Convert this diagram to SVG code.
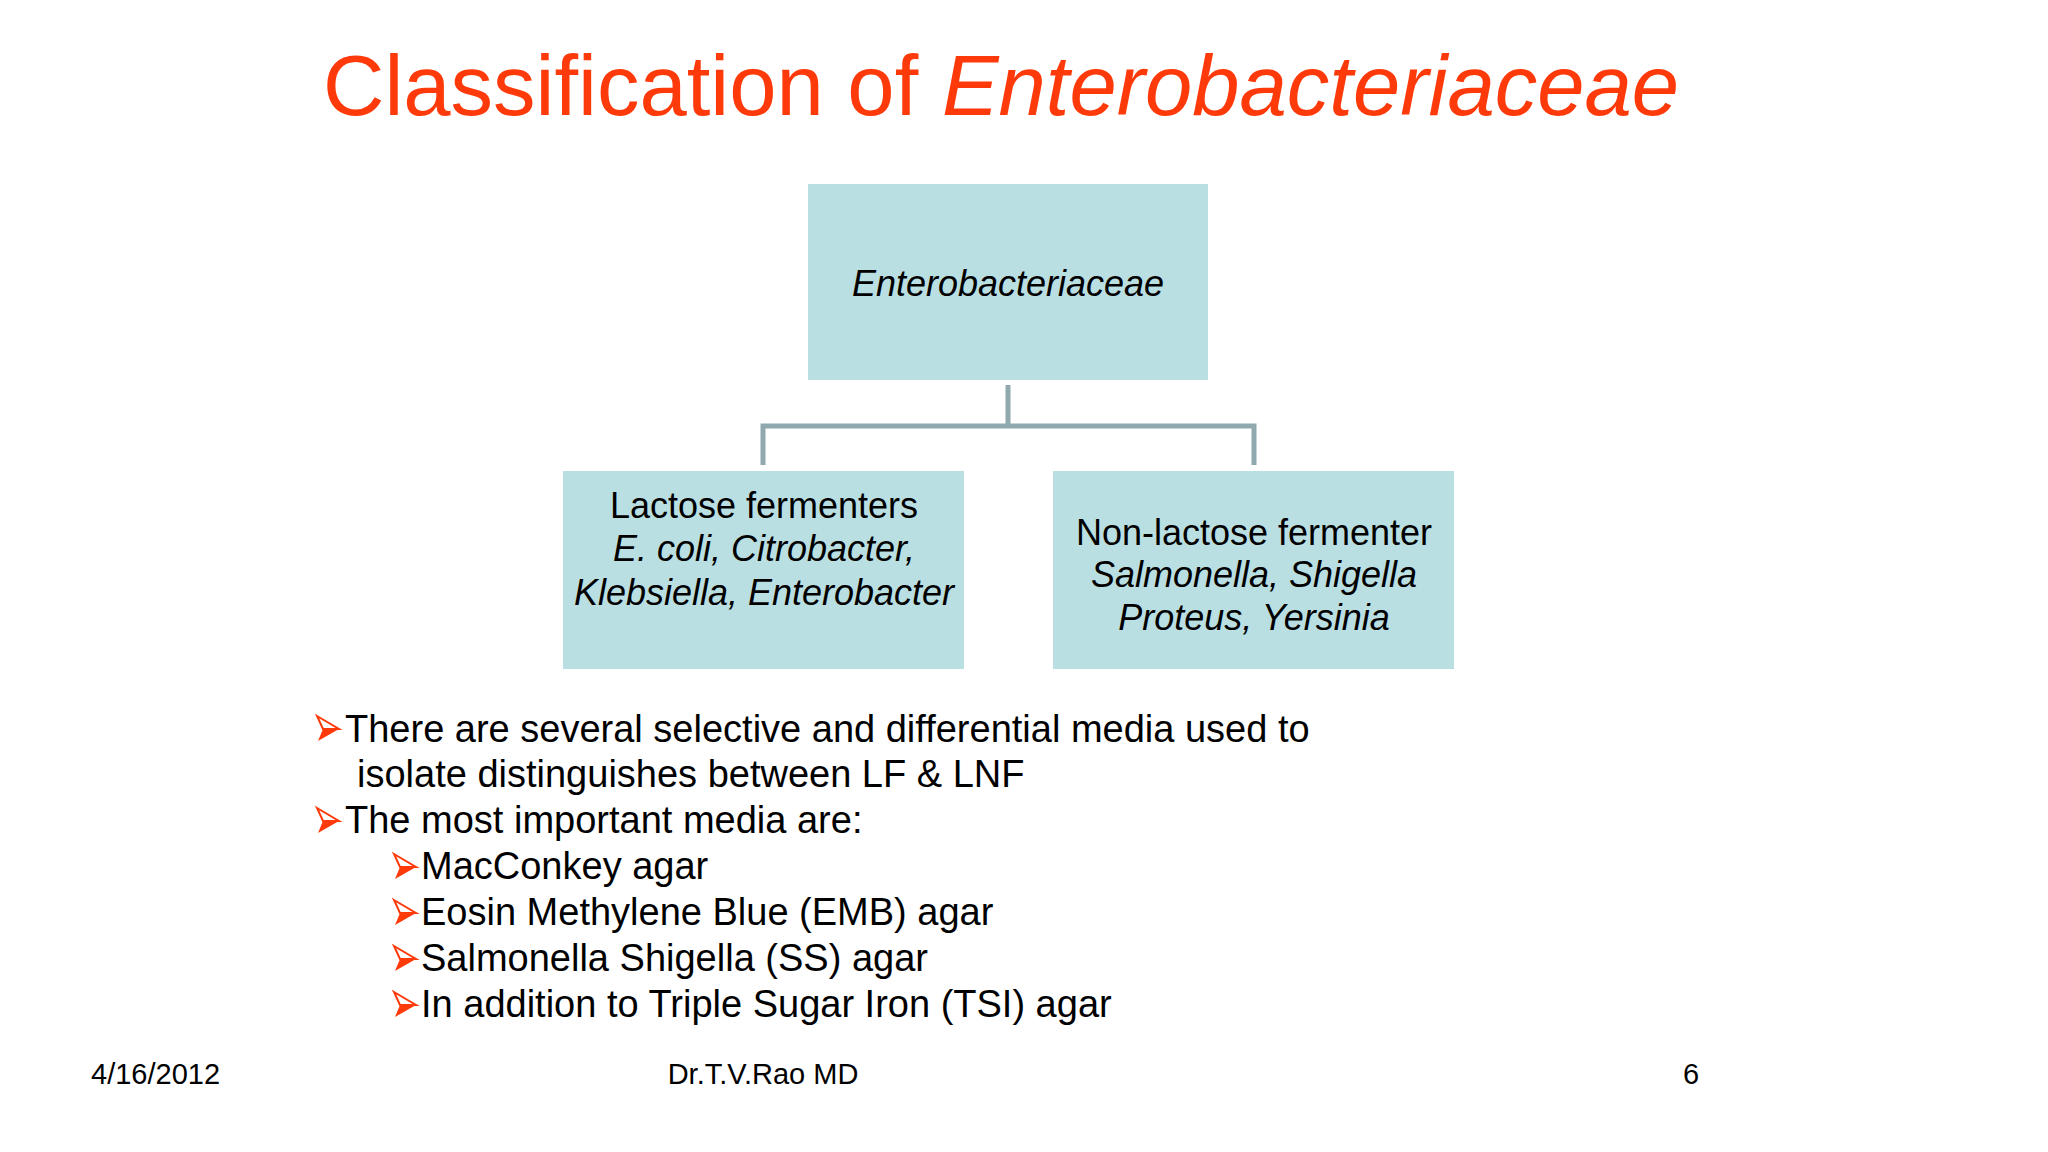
<svg xmlns="http://www.w3.org/2000/svg" xmlns:xlink="http://www.w3.org/1999/xlink" width="2048" height="1152" viewBox="0 0 2048 1152">
<style>
text{font-family:"Liberation Sans",Arial,sans-serif;fill:#000}
.title{font-size:85px;fill:#ff3a0a}
.node{fill:#badfe2}
.nt{font-size:36px;text-anchor:middle}
.it{font-style:italic}
.b{font-size:38px}
.f{font-size:29px}
.conn{fill:none;stroke:#8fa9af;stroke-width:5}
</style>
<defs>
<g id="bul">
<path d="M0,0 L22,13 L6,13 Z" fill="none" stroke="#ff3a0a" stroke-width="2" stroke-linejoin="miter"/>
<path d="M6,13 L22,13 L1,25 Z" fill="#ff3a0a"/>
</g>
</defs>
<rect width="2048" height="1152" fill="#fff"/>
<text class="title" x="323" y="115">Classification of <tspan class="it">Enterobacteriaceae</tspan></text>
<g id="connectors">
<path class="conn" d="M1008,385 V426 M763,465 V426 H1254 V465"/>
</g>
<g id="root">
<rect class="node" x="808" y="184" width="400" height="196"/>
<text class="nt it" x="1008" y="296">Enterobacteriaceae</text>
</g>
<g id="lf">
<rect class="node" x="563" y="471" width="401" height="198"/>
<text class="nt" x="764" y="518">Lactose fermenters</text>
<text class="nt it" x="764" y="561">E. coli, Citrobacter,</text>
<text class="nt it" x="764" y="605">Klebsiella, Enterobacter</text>
</g>
<g id="nlf">
<rect class="node" x="1053" y="471" width="401" height="198"/>
<text class="nt" x="1254" y="545">Non-lactose fermenter</text>
<text class="nt it" x="1254" y="587">Salmonella, Shigella</text>
<text class="nt it" x="1254" y="630">Proteus, Yersinia</text>
</g>
<g id="bullets">
<use xlink:href="#bul" x="317" y="716"/>
<text class="b" x="345" y="742">There are several selective and differential media used to</text>
<text class="b" x="357" y="787">isolate distinguishes between LF &amp; LNF</text>
<use xlink:href="#bul" x="317" y="808"/>
<text class="b" x="345" y="833">The most important media are:</text>
<use xlink:href="#bul" x="394" y="854"/>
<text class="b" x="421" y="879">MacConkey agar</text>
<use xlink:href="#bul" x="394" y="900"/>
<text class="b" x="421" y="925">Eosin Methylene Blue (EMB) agar</text>
<use xlink:href="#bul" x="394" y="946"/>
<text class="b" x="421" y="971">Salmonella Shigella (SS) agar</text>
<use xlink:href="#bul" x="394" y="992"/>
<text class="b" x="421" y="1017">In addition to Triple Sugar Iron (TSI) agar</text>
</g>
<text class="f" x="91" y="1084">4/16/2012</text>
<text class="f" x="763" y="1084" text-anchor="middle">Dr.T.V.Rao MD</text>
<text class="f" x="1691" y="1084" text-anchor="middle">6</text>
</svg>
